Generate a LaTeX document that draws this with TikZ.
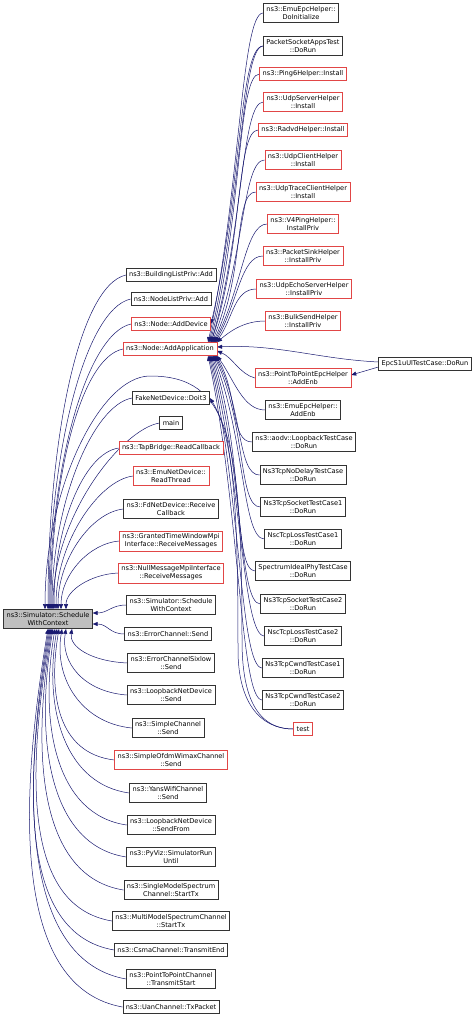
\documentclass[tikz,border=0pt]{standalone}
\usepackage{fontspec}
\newfontfamily\dxfont{DejaVu Sans}
\usetikzlibrary{arrows.meta}
\definecolor{edgeblue}{RGB}{25,25,112}
\definecolor{boxred}{RGB}{225,70,70}
\definecolor{mainfill}{RGB}{191,191,191}
\pgfdeclarelayer{bg}
\pgfsetlayers{bg,main}
\begin{document}
\begin{tikzpicture}[x=1pt,y=-1pt,
  box/.style={draw=black!80, fill=white, line width=0.6pt, inner xsep=3pt, inner ysep=3pt,
    minimum height=13pt, align=center, font=\dxfont\fontsize{6.6}{8}\selectfont},
  rbox/.style={box, draw=boxred},
  mbox/.style={box, fill=mainfill},
  edge/.style={draw=edgeblue, line width=0.5pt, -{Triangle[length=5pt,width=4pt]}}]
\useasboundingbox (0,0) rectangle (474,1017);

\node[mbox] (M) at (48,619) {ns3::Simulator::Schedule\\WithContext};

\node[box]  (L1) at (171,275) {ns3::BuildingListPriv::Add};
\node[box]  (L2) at (171,299) {ns3::NodeListPriv::Add};
\node[rbox] (L3) at (171,324) {ns3::Node::AddDevice};
\node[rbox] (L4) at (170,349) {ns3::Node::AddApplication};
\node[box]  (L5) at (171,398) {FakeNetDevice::Doit3};
\node[box]  (L6) at (171,423) {main};
\node[rbox] (L7) at (171,448) {ns3::TapBridge::ReadCallback};
\node[rbox] (L8) at (171,476) {ns3::EmuNetDevice::\\ReadThread};
\node[box]  (L9) at (171,509) {ns3::FdNetDevice::Receive\\Callback};
\node[rbox] (L10) at (171,541) {ns3::GrantedTimeWindowMpi\\Interface::ReceiveMessages};
\node[rbox] (L11) at (171,573) {ns3::NullMessageMpiInterface\\::ReceiveMessages};
\node[box]  (L12) at (171,605) {ns3::Simulator::Schedule\\WithContext};
\node[box]  (L13) at (168,634) {ns3::ErrorChannel::Send};
\node[box]  (L14) at (171,663) {ns3::ErrorChannelSixlow\\::Send};
\node[box]  (L15) at (171,695) {ns3::LoopbackNetDevice\\::Send};
\node[box]  (L16) at (168,728) {ns3::SimpleChannel\\::Send};
\node[rbox] (L17) at (171,760) {ns3::SimpleOfdmWimaxChannel\\::Send};
\node[box]  (L18) at (168,793) {ns3::YansWifiChannel\\::Send};
\node[box]  (L19) at (171,825) {ns3::LoopbackNetDevice\\::SendFrom};
\node[box]  (L20) at (171,857) {ns3::PyViz::SimulatorRun\\Until};
\node[box]  (L21) at (171,890) {ns3::SingleModelSpectrum\\Channel::StartTx};
\node[box]  (L22) at (171,921) {ns3::MultiModelSpectrumChannel\\::StartTx};
\node[box]  (L23) at (171,950) {ns3::CsmaChannel::TransmitEnd};
\node[box]  (L24) at (171,979) {ns3::PointToPointChannel\\::TransmitStart};
\node[box]  (L25) at (171,1007) {ns3::UanChannel::TxPacket};

\node[box]  (R1) at (301,13) {ns3::EmuEpcHelper::\\DoInitialize};
\node[box]  (R2) at (303,46) {PacketSocketAppsTest\\::DoRun};
\node[rbox] (R3) at (303,74) {ns3::Ping6Helper::Install};
\node[rbox] (R4) at (303,102) {ns3::UdpServerHelper\\::Install};
\node[rbox] (R5) at (303,130) {ns3::RadvdHelper::Install};
\node[rbox] (R6) at (303,160) {ns3::UdpClientHelper\\::Install};
\node[rbox] (R7) at (303,192) {ns3::UdpTraceClientHelper\\::Install};
\node[rbox] (R8) at (303,224) {ns3::V4PingHelper::\\InstallPriv};
\node[rbox] (R9) at (303,256) {ns3::PacketSinkHelper\\::InstallPriv};
\node[rbox] (R10) at (304,289) {ns3::UdpEchoServerHelper\\::InstallPriv};
\node[rbox] (R11) at (303,321) {ns3::BulkSendHelper\\::InstallPriv};
\node[box]  (R12) at (425,364) {EpcS1uUlTestCase::DoRun};
\node[rbox] (R13) at (303,378) {ns3::PointToPointEpcHelper\\::AddEnb};
\node[box]  (R14) at (303,410) {ns3::EmuEpcHelper::\\AddEnb};
\node[box]  (R15) at (304,442) {ns3::aodv::LoopbackTestCase\\::DoRun};
\node[box]  (R16) at (303,475) {Ns3TcpNoDelayTestCase\\::DoRun};
\node[box]  (R17) at (303,507) {Ns3TcpSocketTestCase1\\::DoRun};
\node[box]  (R18) at (303,539) {NscTcpLossTestCase1\\::DoRun};
\node[box]  (R19) at (303,571) {SpectrumIdealPhyTestCase\\::DoRun};
\node[box]  (R20) at (303,604) {Ns3TcpSocketTestCase2\\::DoRun};
\node[box]  (R21) at (303,636) {NscTcpLossTestCase2\\::DoRun};
\node[box]  (R22) at (303,668) {Ns3TcpCwndTestCase1\\::DoRun};
\node[box]  (R23) at (303,700) {Ns3TcpCwndTestCase2\\::DoRun};
\node[rbox] (R24) at (303,729) {test};

\coordinate (T1) at (242,640);
\coordinate (T2) at (150,376);
\coordinate (T3) at (238,650);

\begin{pgfonlayer}{bg}
% upper left column -> main (top)
\foreach \n/\xs/\d in {L1/0/335,L2/1/311,L3/2/286,L4/3/261,L5/4/212,L6/5/187,L7/6/162,L8/8/134,L9/10/101,L10/13/69,L11/18/37}
  \draw[edge] (\n.west) .. controls +({-25-\d/15},{\d/30}) and +(0,{-\d/2}) .. ([xshift=\xs pt]M.north);
% near ones -> main (right side)
\draw[edge] (L12.west) .. controls +(-15,0) and +(15,0) .. ([yshift=6pt]M.east);
\draw[edge] (L13.west) .. controls +(-15,0) and +(15,0) .. ([yshift=-5pt]M.east);
% lower left column -> main (bottom)
\foreach \n/\xs/\d in {L14/24/35,L15/18/67,L16/14/100,L17/11/132,L18/9/165,L19/7/197,L20/5/229,L21/4/262,L22/3/293,L23/2/322,L24/1/351,L25/0/379}
  \draw[edge] (\n.west) .. controls +({-30-\d/5},{-\d/20}) and +({-\d/12},{\d/2}) .. ([xshift=\xs pt]M.south);
% right column upper -> AddApplication
\foreach \n/\k/\d in {R1/9/330,R2/8/297,R3/7/269,R4/6/241,R5/6/213,R6/5/183,R7/4/151,R8/3/119,R9/2/87,R10/1/54,R11/0/22}
  \draw[edge] (\n.west) .. controls +(-22,0) and +({min(32,8+\d/6)},{-\d*0.45}) .. ([xshift=-\k pt]L4.north east);
\draw[edge] (R2.west) .. controls +(-24,0) and +(30,-130) .. (L3.east);
% right column lower -> AddApplication
\foreach \n/\k/\d in {R14/0/54,R15/1/86,R16/2/119,R17/3/151,R18/4/183,R19/5/215,R20/6/248,R21/7/280,R22/8/312,R23/9/344}
  \draw[edge] (\n.west) .. controls +(-22,0) and +({min(32,8+\d/6)},{\d*0.45}) .. ([xshift=-\k pt]L4.south east);
\draw[edge] (R13.west) .. controls +(-15,-4) and +(15,6) .. ([yshift=-2pt]L4.east);
\draw[edge] ([yshift=2pt]R12.west) .. controls +(-60,-3) and +(60,-3) .. ([yshift=2pt]L4.east);
\draw[edge] ([yshift=-3pt]R12.west) -- ([yshift=3pt]R13.east);
% test
\draw[edge] (R24.west) .. controls +(-35,0) and +(0,50) .. (T3)
  .. controls +(0,-130) and +(25,40) .. (L5.east);
\draw[edge] (R24.west) .. controls +(-40,0) and +(0,50) .. (T1)
  .. controls +(0,-200) and +(80,0) .. (T2)
  .. controls +(-50,0) and +(0,-120) .. ([xshift=-3pt]M.north);
\end{pgfonlayer}
\end{tikzpicture}
\end{document}
